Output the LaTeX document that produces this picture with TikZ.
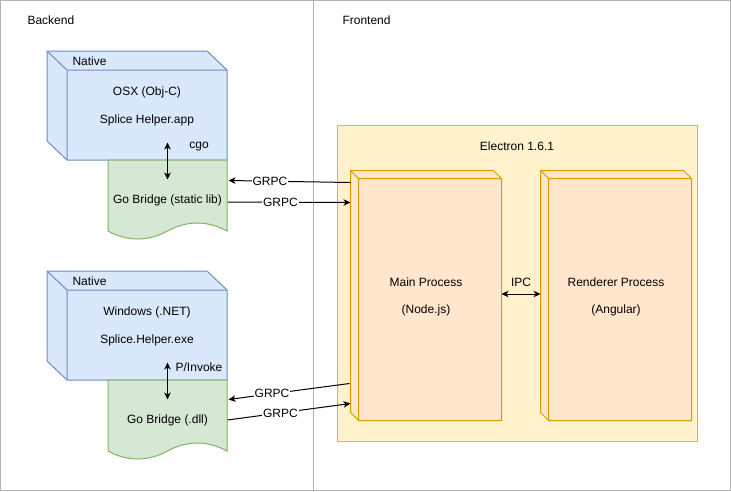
\documentclass[tikz,border=0pt]{standalone}
\usepackage{fontspec}
\setmainfont{Liberation Sans}
\usetikzlibrary{calc, arrows.meta}

\definecolor{natfill}{HTML}{DAE8FC}
\definecolor{natline}{HTML}{6C8EBF}
\definecolor{gofill}{HTML}{D5E8D4}
\definecolor{goline}{HTML}{82B366}
\definecolor{elecfill}{HTML}{FFF2CC}
\definecolor{elecline}{HTML}{D6B656}
\definecolor{procfill}{HTML}{FFE6CC}
\definecolor{procline}{HTML}{D79B00}
\definecolor{framegray}{HTML}{B3B3B3}

\tikzset{
  txt/.style={inner sep=0pt, font=\fontsize{12}{14}\selectfont},
  lbl/.style={txt, fill=white, inner sep=1pt},
  face/.style={inner sep=0pt, minimum width=#1},
}

\begin{document}
\begin{tikzpicture}[x=1pt, y=-1pt, >={Stealth[length=7pt, width=6.5pt, inset=2pt]}, line width=1pt]
    \useasboundingbox (0,0) rectangle (731,491);
    \draw[framegray] (0.5,0.5) rectangle (730.5,490.5);
    \draw[framegray] (313,0.5) -- (313,490.5);
    \node[txt, anchor=west] (backend) at (27,20) {Backend};
    \node[txt, anchor=west] (frontend) at (342,20) {Frontend};

    % native app + go bridge, once per platform
    \foreach \i/\dy/\os/\app/\link/\lib in {1/0/OSX (Obj-C)/Splice Helper.app/cgo/Go Bridge (static lib),
                                            2/220/Windows (.NET)/Splice.Helper.exe/P\slash Invoke/Go Bridge (.dll)} {
      \begin{scope}[shift={(0,\dy)}]
        \draw[natline, fill=natfill] (47,51) -- (207,51) -- (227,70) -- (227,160) -- (67,160) -- (47,141) -- cycle;
        \draw[natline] (47,51) -- (67,70) -- (227,70) (67,70) -- (67,160);
        \node[face=160pt, minimum height=90pt] (nat\i) at (147,115) {};
        \node[txt, anchor=west] (natlbl\i) at (72,61) {Native};
        \node[txt] (os\i) at (147,92) {\os};
        \node[txt] (app\i) at (147,120) {\app};
        \node[txt] (link\i) at (199,147) {\link};

        \draw[goline, fill=gofill] (108,160) -- (227,160) -- (227,231)
            .. controls (207.17,220.33) and (187.33,220.33) .. (167.5,231)
            .. controls (147.67,241.67) and (127.83,241.67) .. (108,231) -- cycle;
        \node[face=119pt, minimum height=80pt, txt] (gb\i) at (167.5,200) {\lib};
        \draw[<->] ($(gb\i.north)+(0,-17)$) -- ($(gb\i.north)+(0,20)$);
      \end{scope}
    }

    % electron container
    \node[draw=elecline, fill=elecfill, minimum width=360pt, minimum height=316pt, inner sep=0pt] (electron) at (517,283) {};
    \node[txt] (electronlbl) at (517,146) {Electron 1.6.1};

    \foreach \p/\cx/\title/\sub in {main/430/Main Process/(Node.js), rend/620/Renderer Process/(Angular)} {
      \node[face=142pt, minimum height=241pt] (\p) at (\cx,299.5) {};
      \draw[procline, fill=procfill] ($(\p.north west)+(-8,-8)$) -- ($(\p.north east)+(-8,-8)$) -- (\p.north east)
          -- (\p.south east) -- (\p.south west) -- ($(\p.south west)+(-8,-8)$) -- cycle;
      \draw[procline] ($(\p.north west)+(-8,-8)$) -- (\p.north west) -- (\p.north east) (\p.north west) -- (\p.south west);
      \node[txt] (\p-title) at ({\cx-4},282) {\title};
      \node[txt] (\p-sub) at ({\cx-4},310) {\sub};
    }

    \draw[<->] ($(main.east)+(0,-5.5)$) -- node[txt, above=7pt] (ipc) {IPC} ($(rend.west)+(-8,-5.5)$);

    % grpc links
    \draw[<-] ($(gb1.north east)+(1,21)$) -- node[lbl, pos=0.34] (grpc1a) {GRPC} ($(main.north west)+(-8,4)$);
    \draw[->] ($(gb1.east)+(0,2)$) -- node[lbl, pos=0.43] (grpc1b) {GRPC} ($(main.north west)+(-8,24)$);
    \draw[<-] ($(gb2.north east)+(1,20)$) -- node[lbl, pos=0.36] (grpc2a) {GRPC} ($(main.south west)+(-9,-37)$);
    \draw[->] (gb2.east) -- node[lbl, pos=0.43] (grpc2b) {GRPC} ($(main.south west)+(-8,-17)$);
\end{tikzpicture}
\end{document}
